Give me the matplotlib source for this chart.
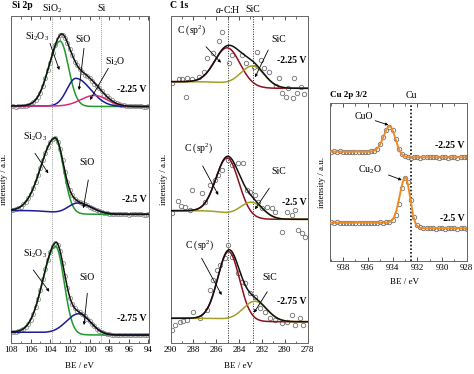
import numpy as np
import matplotlib
matplotlib.use("Agg")
import matplotlib.pyplot as plt
from matplotlib.ticker import MultipleLocator

plt.rcParams['font.family'] = ['Liberation Serif', 'DejaVu Serif']
plt.rcParams['mathtext.fontset'] = 'custom'
plt.rcParams['mathtext.rm'] = 'Liberation Serif'
plt.rcParams['mathtext.it'] = 'Liberation Serif:italic'
plt.rcParams['mathtext.bf'] = 'Liberation Serif:bold'

# ------------------------------------------------------------------ data
voltages = ['-2.25 V', '-2.5 V', '-2.75 V']

# ---- Si 2p
si_be = [108.0, 107.75, 107.5, 107.25, 107.0, 106.75, 106.5, 106.25, 106.0, 105.75,
         105.5, 105.25, 105.0, 104.75, 104.5, 104.25, 104.0, 103.75, 103.5, 103.25,
         103.0, 102.75, 102.5, 102.25, 102.0, 101.75, 101.5, 101.25, 101.0, 100.75,
         100.5, 100.25, 100.0, 99.75, 99.5, 99.25, 99.0, 98.75, 98.5, 98.25,
         98.0, 97.75, 97.5, 97.25, 97.0, 96.75, 96.5, 96.25, 96.0, 95.75,
         95.5, 95.25, 95.0, 94.75, 94.5, 94.25, 94.0]
si_counts_225 = [0.5, 0.1, -0.3, 0.2, 0.4, 0.5, 0.8, 1.4, 2.5, 4.2, 6.5, 9.6, 13.5, 20.5,
                 28.5, 36.8, 44.0, 53.5, 62.0, 68.0, 72.0, 71.5, 69.0, 64.0, 58.0, 51.5,
                 45.0, 41.2, 38.0, 35.0, 32.0, 30.2, 28.5, 25.8, 23.0, 20.8, 18.5, 15.4,
                 12.0, 10.1, 8.5, 6.5, 4.8, 3.5, 2.5, 1.8, 1.2, 0.9, 0.6, 0.5, 0.3, 0.1,
                 0.2, 0.3, -0.3, -0.1, 0.1]
si_counts_250 = [4.4, 4.8, 5.4, 6.4, 7.8, 9.9, 12.4, 16.1, 20.4, 26.0, 32.1, 39.2, 46.5,
                 54.0, 61.1, 67.0, 72.2, 75.3, 76.5, 72.4, 65.5, 54.3, 42.5, 32.5, 24.1,
                 18.9, 15.5, 13.6, 12.2, 11.1, 10.0, 8.9, 7.7, 6.5, 5.4, 4.2, 3.2, 2.4,
                 1.7, 1.2, 0.8, 0.5, 0.3, 0.2, 0.1, 0.0, 0.3, 0.1, -0.2, 0.1, 0.2, -0.1,
                 0.0, 0.2, -0.3, -0.2, 0.1]
si_counts_275 = [2.9, 3.1, 3.4, 3.9, 4.8, 6.2, 8.3, 11.4, 15.4, 21.0, 27.7, 36.2, 45.4,
                 55.8, 65.8, 74.9, 83.2, 88.8, 92.3, 89.9, 83.9, 72.2, 59.2, 47.5, 37.4,
                 31.2, 26.7, 24.5, 22.7, 20.9, 18.8, 16.5, 13.9, 11.2, 8.6, 6.4, 4.5, 3.1,
                 2.0, 1.3, 0.8, 0.5, 0.3, 0.2, 0.1, 0.1, -0.2, 0.0, 0.3, 0.2, 0.0, -0.1,
                 -0.3, 0.0, 0.2, 0.1, 0.1]
si_offsets = [236.5, 128.7, 8.0]
si_steps = [0.5, 3.8, 2.7]
si_names = ['Si2O3', 'SiO', 'Si2O']
# fitted components: centre, height, width (high-BE side), width (low-BE side)
si_centers = [[103.0, 101.4, 99.5], [103.5, 101.2], [103.45, 101.1]]
si_heights = [[65, 28, 11], [74, 11], [87, 21]]
si_w_hi = [[1.15, 0.9, 1.4], [1.45, 1.0], [1.3, 1.3]]
si_w_lo = [[0.85, 1.5, 1.3], [0.85, 1.4], [0.85, 1.2]]
si_refs = [103.8, 98.8]

# ---- C 1s
c_be_225 = [289.85, 289.27, 288.97, 288.6, 288.53, 288.1, 287.5, 287.1, 286.8, 286.3,
            285.75, 285.5, 284.9, 284.6, 283.7, 283.4, 282.7, 282.4, 282.1, 281.8,
            281.4, 280.8, 280.5, 280.2, 279.9, 279.75, 279.3, 279.2, 278.9, 278.6, 278.3]
c_int_225 = [259.7, 264.3, 263.7, 246.3, 264.7, 263.7, 265.7, 271.3, 284.7, 290.3,
             302.3, 311.3, 280.3, 288.0, 288.0, 279.7, 276.3, 291.3, 283.0, 274.7,
             271.3, 257.0, 264.7, 249.7, 246.3, 254.7, 245.3, 264.7, 249.7, 256.3, 249.0]
c_be_250 = [289.9, 289.32, 289.11, 288.73, 288.29, 288.14, 287.27, 286.98, 286.54, 286.1,
            285.81, 285.52, 284.94, 284.64, 284.06, 283.63, 283.33, 283.04, 282.6, 282.31,
            282.01, 281.58, 281.14, 280.85, 280.26, 279.82, 279.39, 279.1, 278.81, 278.51, 278.22]
c_int_250 = [130.3, 142.3, 137.0, 135.7, 133.0, 153.0, 149.7, 141.3, 158.0, 163.0,
             168.0, 173.0, 183.0, 178.0, 179.7, 179.7, 153.0, 151.3, 148.0, 141.3,
             134.7, 136.3, 134.7, 131.3, 111.3, 131.3, 128.0, 133.0, 113.0, 109.7, 106.3]
c_be_275 = [289.9, 289.61, 289.17, 288.88, 288.58, 288.0, 287.42, 286.83, 286.54, 286.25,
            285.95, 285.67, 285.23, 284.94, 284.64, 284.06, 283.77, 283.48, 283.04, 282.6,
            282.16, 281.73, 281.29, 280.85, 280.26, 279.82, 279.39, 279.1, 278.66, 278.37]
c_int_275 = [13.0, 18.0, 21.3, 22.3, 23.0, 31.3, 24.7, 33.0, 53.0, 63.0,
             73.0, 78.0, 84.7, 98.0, 86.3, 69.7, 61.3, 59.7, 49.7, 46.3,
             34.7, 31.3, 24.7, 23.0, 19.7, 21.3, 28.0, 18.0, 24.7, 18.0]
c_offsets = [254.7, 123.7, 21.3]
c_steps = [6.6, 8.6, 3.4]
c_centers = [[285.0, 282.8], [285.0, 282.9], [284.9, 282.6]]
c_heights = [[36, 21], [56, 16], [68, 20]]
c_widths = [[1.1, 1.05], [1.0, 1.0], [0.95, 1.05]]
c_refs = [285.0, 282.8]

# ---- Cu 2p 3/2
cu_be = [939.0, 938.75, 938.5, 938.25, 938.0, 937.75, 937.5, 937.25, 937.0, 936.75,
         936.5, 936.25, 936.0, 935.75, 935.5, 935.25, 935.0, 934.75, 934.5, 934.25,
         934.0, 933.75, 933.5, 933.25, 933.0, 932.75, 932.5, 932.25, 932.0, 931.75,
         931.5, 931.25, 931.0, 930.75, 930.5, 930.25, 930.0, 929.75, 929.5, 929.25,
         929.0, 928.75, 928.5, 928.25, 928.0]
cu_counts_225 = [5.8, 6.2, 5.4, 5.9, 5.2, 5.7, 5.3, 5.0, 5.6, 5.2,
                 5.5, 5.1, 5.7, 6.0, 6.6, 8.7, 13.1, 20.2, 27.4, 30.8,
                 27.2, 17.9, 8.6, 3.1, 0.9, 0.3, -0.2, 0.4, 0.1, -0.3,
                 0.2, 0.5, -0.1, 0.3, 0.0, -0.4, 0.2, 0.1, -0.2, 0.3,
                 0.0, -0.3, 0.2, -0.1, 0.1]
cu_counts_250 = [6.0, 5.3, 6.1, 5.6, 5.0, 5.4, 5.8, 5.2, 5.5, 5.1,
                 5.6, 5.3, 5.8, 5.4, 5.7, 5.5, 5.9, 5.8, 5.9, 6.4,
                 8.1, 13.4, 24.6, 40.3, 50.4, 46.1, 28.7, 11.6, 3.4, 1.0,
                 0.3, 0.6, 0.1, 0.4, -0.2, 0.3, 0.0, -0.3, 0.2, -0.1,
                 0.1, -0.4, 0.0, 0.2, -0.2]
cu_offsets = [103.7, 32.7]
cu_steps = [5.6, 5.6]
cu_centers = [934.2, 932.95]
cu_heights = [28, 48]
cu_w_hi = [0.5, 0.45]
cu_w_lo = [0.45, 0.38]
cu_ref = 932.5

# ------------------------------------------------------------------ helpers
def apeak(x, c, h, s_hi, s_lo):
    s = np.where(x >= c, s_hi, s_lo)
    return h * np.exp(-0.5 * ((x - c) / s) ** 2)


def shirley(x, total, lo, step):
    order = np.argsort(x)
    cum = np.cumsum(total[order])
    cum = cum / cum[-1]
    out = np.empty_like(x)
    out[order] = lo + step * cum
    return out


W, H = 474, 374
fig = plt.figure(figsize=(W / 100, H / 100), dpi=100)


def px_axes(l, r, t, b):
    return fig.add_axes([l / W, 1 - b / H, (r - l) / W, (b - t) / H])


def style(ax, xlim, ylim):
    ax.set_xlim(*xlim)
    ax.set_ylim(*ylim)
    ax.set_yticks([])
    ax.xaxis.set_major_locator(MultipleLocator(2))
    ax.xaxis.set_minor_locator(MultipleLocator(1))
    ax.tick_params(axis='x', which='both', direction='in', top=True,
                   labelsize=6.5, pad=2, color='#333333')
    ax.tick_params(axis='x', which='major', length=3, width=0.6)
    ax.tick_params(axis='x', which='minor', length=1.8, width=0.5)
    for s in ax.spines.values():
        s.set_color('#666666')
        s.set_linewidth(0.7)


lab_kw = dict(fontsize=7)
volt_kw = dict(fontsize=7, fontweight='bold', ha='right', va='center')
arrow_kw = dict(arrowstyle='-|>', color='black', lw=0.6, mutation_scale=4,
                shrinkA=0, shrinkB=0)
data_kw = dict(ls='none', marker='o', ms=3.0, mfc='none', mec='#8a8a8a', mew=0.55)

# ------------------------------------------------------------------ Si 2p
ax1 = px_axes(11, 148.5, 16, 343)
style(ax1, (108, 94), (0, 327))
xf = np.linspace(108, 94, 500)
si_counts = [si_counts_225, si_counts_250, si_counts_275]
si_colors = ['#1f9a2a', '#1c1c96', '#e0287a']
for k in range(3):
    comps = [apeak(xf, c, h, a, b) for c, h, a, b in
             zip(si_centers[k], si_heights[k], si_w_hi[k], si_w_lo[k])]
    tot = np.sum(comps, axis=0)
    bg = shirley(xf, tot, si_offsets[k], si_steps[k])
    ax1.plot(si_be, np.add(si_offsets[k], si_counts[k]), zorder=2, **data_kw)
    for j, cp in enumerate(comps):
        ax1.plot(xf, bg + cp, color=si_colors[j], lw=1.1, zorder=3)
    ax1.plot(xf, bg + tot, color='#111111', lw=1.1, zorder=4)
for r in si_refs:
    ax1.axvline(r, color='#777777', lw=0.6, ls=(0, (1, 1.5)), zorder=1)

si2o3 = r'Si$_2$O$_3$'
ax1.text(105.38, 306.3, si2o3, ha='center', va='center', **lab_kw)
ax1.annotate('', xy=(103.08, 273), xytext=(104.03, 299.7), arrowprops=arrow_kw)
ax1.text(100.67, 303.7, 'SiO', ha='center', va='center', **lab_kw)
ax1.annotate('', xy=(101.08, 253), xytext=(100.57, 294.7), arrowprops=arrow_kw)
ax1.text(97.41, 281.3, r'Si$_2$O', ha='center', va='center', **lab_kw)
ax1.annotate('', xy=(99.96, 243), xytext=(98.09, 274.7), arrowprops=arrow_kw)
ax1.text(94.2, 253, voltages[0], **volt_kw)

ax1.text(105.56, 206.3, si2o3, ha='center', va='center', **lab_kw)
ax1.annotate('', xy=(104.2, 169.7), xytext=(105.56, 189.7), arrowprops=arrow_kw)
ax1.text(100.23, 180.3, 'SiO', ha='center', va='center', **lab_kw)
ax1.annotate('', xy=(100.64, 134.7), xytext=(100.13, 163), arrowprops=arrow_kw)
ax1.text(94.2, 144, voltages[1], **volt_kw)

ax1.text(105.56, 89, si2o3, ha='center', va='center', **lab_kw)
ax1.annotate('', xy=(104.1, 51.3), xytext=(105.73, 73), arrowprops=arrow_kw)
ax1.text(100.23, 65.7, 'SiO', ha='center', va='center', **lab_kw)
ax1.annotate('', xy=(100.57, 18), xytext=(100.23, 49.7), arrowprops=arrow_kw)
ax1.text(94.2, 24.7, voltages[2], **volt_kw)

ax1.text(si_refs[0], 1.022, r'SiO$_2$', transform=ax1.get_xaxis_transform(),
         ha='center', va='center', **lab_kw)
ax1.text(si_refs[1], 1.022, 'Si', transform=ax1.get_xaxis_transform(),
         ha='center', va='center', **lab_kw)

# ------------------------------------------------------------------ C 1s
ax2 = px_axes(170.5, 307.5, 16, 343)
style(ax2, (290, 278), (0, 327))
xc = np.linspace(290, 278, 500)
c_bes = [c_be_225, c_be_250, c_be_275]
c_ints = [c_int_225, c_int_250, c_int_275]
c_colors = ['#8e1020', '#a3a028']
for k in range(3):
    comps = [apeak(xc, c, h, w, w) for c, h, w in
             zip(c_centers[k], c_heights[k], c_widths[k])]
    tot = np.sum(comps, axis=0)
    bg = shirley(xc, tot, c_offsets[k], c_steps[k])
    ax2.plot(c_bes[k], c_ints[k], ls='none', marker='o', ms=3.2, mfc='none',
             mec='#707070', mew=0.6, zorder=2)
    for j, cp in enumerate(comps):
        ax2.plot(xc, bg + cp, color=c_colors[j], lw=1.1, zorder=3)
    ax2.plot(xc, bg + tot, color='#111111', lw=1.1, zorder=4)
for r in c_refs:
    ax2.axvline(r, color='#222222', lw=0.7, ls=(0, (1, 1.5)), zorder=1)

csp2 = r'C (sp$^2$)'
ax2.text(288.14, 313, csp2, ha='center', va='center', **lab_kw)
ax2.annotate('', xy=(285.58, 280.3), xytext=(286.89, 296.3), arrowprops=arrow_kw)
ax2.text(280.56, 303.7, 'SiC', ha='center', va='center', **lab_kw)
ax2.annotate('', xy=(282.6, 265.7), xytext=(281.44, 293), arrowprops=arrow_kw)
ax2.text(278.1, 282.3, voltages[0], **volt_kw)

ax2.text(287.57, 194.7, csp2, ha='center', va='center', **lab_kw)
ax2.annotate('', xy=(285.81, 148), xytext=(287.18, 177), arrowprops=arrow_kw)
ax2.text(280.56, 171.3, 'SiC', ha='center', va='center', **lab_kw)
ax2.annotate('', xy=(282.6, 133.7), xytext=(281.35, 154.7), arrowprops=arrow_kw)
ax2.text(278.1, 140.3, voltages[1], **volt_kw)

ax2.text(287.42, 98, csp2, ha='center', va='center', **lab_kw)
ax2.annotate('', xy=(285.52, 48), xytext=(287.27, 84.7), arrowprops=arrow_kw)
ax2.text(281.35, 65.7, 'SiC', ha='center', va='center', **lab_kw)
ax2.annotate('', xy=(282.69, 30.3), xytext=(281.52, 51.3), arrowprops=arrow_kw)
ax2.text(278.1, 41.3, voltages[2], **volt_kw)

ax2.text(c_refs[0], 1.02, r'$a$-C:H', transform=ax2.get_xaxis_transform(),
         ha='center', va='center', **lab_kw)
ax2.text(c_refs[1], 1.02, 'SiC', transform=ax2.get_xaxis_transform(),
         ha='center', va='center', **lab_kw)

# ------------------------------------------------------------------ Cu 2p 3/2
ax3 = px_axes(329.5, 466.7, 103, 261)
style(ax3, (939.1, 928), (0, 158))
xu = np.linspace(939.1, 928, 500)
cu_counts = [cu_counts_225, cu_counts_250]
for k in range(2):
    pk = apeak(xu, cu_centers[k], cu_heights[k], cu_w_hi[k], cu_w_lo[k])
    bg = shirley(xu, pk, cu_offsets[k], cu_steps[k])
    ax3.plot(cu_be, np.add(cu_offsets[k], cu_counts[k]), ls='none', marker='o',
             ms=3.2, mfc='none', mec='#707070', mew=0.6, zorder=2)
    ax3.plot(xu, bg + pk, color='#f28a24', lw=1.4, zorder=3)
ax3.axvline(cu_ref, color='#111111', lw=1.2, ls=(0, (1, 1.2)), zorder=1)
ax3.text(936.35, 144.3, 'CuO', ha='center', va='center', **lab_kw)
ax3.annotate('', xy=(934.33, 136), xytext=(935.4, 140.3), arrowprops=arrow_kw)
ax3.text(935.82, 91, r'Cu$_2$O', ha='center', va='center', **lab_kw)
ax3.annotate('', xy=(933.25, 81), xytext=(934.33, 86), arrowprops=arrow_kw)
ax3.text(928.2, 116, voltages[0], **volt_kw)
ax3.text(928.2, 42.7, voltages[1], **volt_kw)
ax3.text(cu_ref, 1.05, 'Cu', transform=ax3.get_xaxis_transform(),
         ha='center', va='center', **lab_kw)

# ------------------------------------------------------------------ titles / labels
fig.text(12 / W, 1 - 5 / H, 'Si 2p', fontsize=7, fontweight='bold', ha='left', va='center')
fig.text(170 / W, 1 - 5 / H, 'C 1s', fontsize=7, fontweight='bold', ha='left', va='center')
fig.text(330 / W, 1 - 95 / H, 'Cu 2p 3/2', fontsize=6.5, fontweight='bold', ha='left', va='center')
for xpos, ypos in [(4, 179.5), (163.5, 179.5), (322, 182)]:
    fig.text(xpos / W, 1 - ypos / H, 'intensity / a.u.', rotation=90, fontsize=6.5,
             ha='center', va='center')
for xpos, ypos in [(79.7, 366), (239, 366), (405, 282)]:
    fig.text(xpos / W, 1 - ypos / H, 'BE / eV', fontsize=6.5, ha='center', va='center')

fig.savefig('out.png', dpi=100)
